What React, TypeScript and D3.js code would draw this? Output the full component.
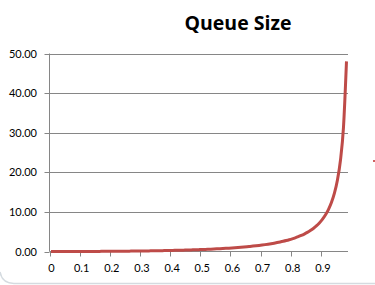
import React from "react";
import * as d3 from "d3";

const categories: number[] = [
  0, 0.01, 0.02, 0.03, 0.04, 0.05, 0.06, 0.07, 0.08, 0.09,
  0.1, 0.11, 0.12, 0.13, 0.14, 0.15, 0.16, 0.17, 0.18, 0.19,
  0.2, 0.21, 0.22, 0.23, 0.24, 0.25, 0.26, 0.27, 0.28, 0.29,
  0.3, 0.31, 0.32, 0.33, 0.34, 0.35, 0.36, 0.37, 0.38, 0.39,
  0.4, 0.41, 0.42, 0.43, 0.44, 0.45, 0.46, 0.47, 0.48, 0.49,
  0.5, 0.51, 0.52, 0.53, 0.54, 0.55, 0.56, 0.57, 0.58, 0.59,
  0.6, 0.61, 0.62, 0.63, 0.64, 0.65, 0.66, 0.67, 0.68, 0.69,
  0.7, 0.71, 0.72, 0.73, 0.74, 0.75, 0.76, 0.77, 0.78, 0.79,
  0.8, 0.81, 0.82, 0.83, 0.84, 0.85, 0.86, 0.87, 0.88, 0.89,
  0.9, 0.91, 0.92, 0.93, 0.94, 0.95, 0.96, 0.97, 0.98,
];

const queueSize: number[] = [
  0, 0.0001, 0.0004, 0.0009, 0.0017, 0.0026, 0.0038, 0.0053, 0.007, 0.0089,
  0.011, 0.014, 0.016, 0.019, 0.023, 0.027, 0.031, 0.035, 0.04, 0.045,
  0.05, 0.056, 0.062, 0.069, 0.076, 0.083, 0.091, 0.1, 0.109, 0.119,
  0.129, 0.139, 0.151, 0.163, 0.175, 0.189, 0.203, 0.217, 0.233, 0.249,
  0.267, 0.285, 0.304, 0.324, 0.346, 0.368, 0.392, 0.417, 0.443, 0.471,
  0.5, 0.531, 0.563, 0.598, 0.634, 0.672, 0.713, 0.756, 0.801, 0.849,
  0.9, 0.954, 1.012, 1.073, 1.138, 1.207, 1.281, 1.36, 1.445, 1.536,
  1.633, 1.738, 1.851, 1.974, 2.106, 2.25, 2.407, 2.578, 2.766, 2.972,
  3.2, 3.453, 3.736, 4.052, 4.41, 4.817, 5.283, 5.822, 6.453, 7.201,
  8.1, 9.201, 10.58, 12.356, 14.727, 18.05, 23.04, 31.363, 48.02,
];

const yTicks: number[] = [0, 10, 20, 30, 40, 50];
const xTickLabels: string[] = ["0", "0.1", "0.2", "0.3", "0.4", "0.5", "0.6", "0.7", "0.8", "0.9"];
const title = "Queue Size";

const W = 375;
const H = 285;
const left = 49.5;
const right = 348;
const top = 53.5;
const bottom = 251.5;
const font = "Lato, 'Open Sans', sans-serif";

export default function App() {
  const x = d3
    .scaleBand<number>()
    .domain(categories)
    .range([left, right])
    .paddingInner(0)
    .paddingOuter(0);
  const y = d3.scaleLinear().domain([0, 50]).range([bottom, top]);
  const bw = x.bandwidth();

  const line = d3
    .line<number>()
    .x((_, i) => (x(categories[i]) as number) + bw / 2)
    .y((d) => y(d))
    .curve(d3.curveMonotoneX);

  const tickCats = categories.filter((_, i) => i % 10 === 0);

  return (
    <svg
      width={W}
      height={H}
      style={{ position: "absolute", left: 0, top: 0, background: "#fff" }}
    >
      <rect x={0} y={0} width={W} height={H} fill="#fff" />
      <path
        d={`M0,272 Q2,283.5 14,283.5 H${W}`}
        fill="none"
        stroke="#d5dbe0"
        strokeWidth={1.5}
      />
      <text
        x={238}
        y={29.5}
        textAnchor="middle"
        fontFamily="'Open Sans', Lato, sans-serif"
        fontWeight={700}
        fontSize={19.5}
        fill="#000"
      >
        {title}
      </text>
      {yTicks.map((t) => (
        <g key={t}>
          {t > 0 && (
            <line
              x1={left}
              x2={right}
              y1={Math.round(y(t)) + 0.5}
              y2={Math.round(y(t)) + 0.5}
              stroke="#868686"
              strokeWidth={1}
            />
          )}
          <line
            x1={left - 5}
            x2={left}
            y1={Math.round(y(t)) + 0.5}
            y2={Math.round(y(t)) + 0.5}
            stroke="#868686"
          />
          <text
            x={37}
            y={y(t) + 4}
            textAnchor="end"
            fontFamily={font}
            fontSize={11}
            fill="#000"
          >
            {d3.format(".2f")(t)}
          </text>
        </g>
      ))}
      <line x1={left} x2={left} y1={top} y2={bottom} stroke="#868686" />
      <line x1={left} x2={right} y1={bottom} y2={bottom} stroke="#868686" />
      {tickCats.map((c, i) => {
        const tx = Math.round(x(c) as number) + 0.5;
        return (
          <g key={c}>
            <line x1={tx} x2={tx} y1={bottom} y2={bottom + 5} stroke="#868686" />
            <text
              x={(x(c) as number) + bw / 2 + 0.5}
              y={272}
              textAnchor="middle"
              fontFamily={font}
              fontSize={11}
              fill="#000"
            >
              {xTickLabels[i]}
            </text>
          </g>
        );
      })}
      <path
        d={line(queueSize) || ""}
        fill="none"
        stroke="#BE4B48"
        strokeWidth={3}
        strokeLinejoin="round"
      />
      <rect x={373} y={160} width={2} height={2} fill="#d06060" />
    </svg>
  );
}
